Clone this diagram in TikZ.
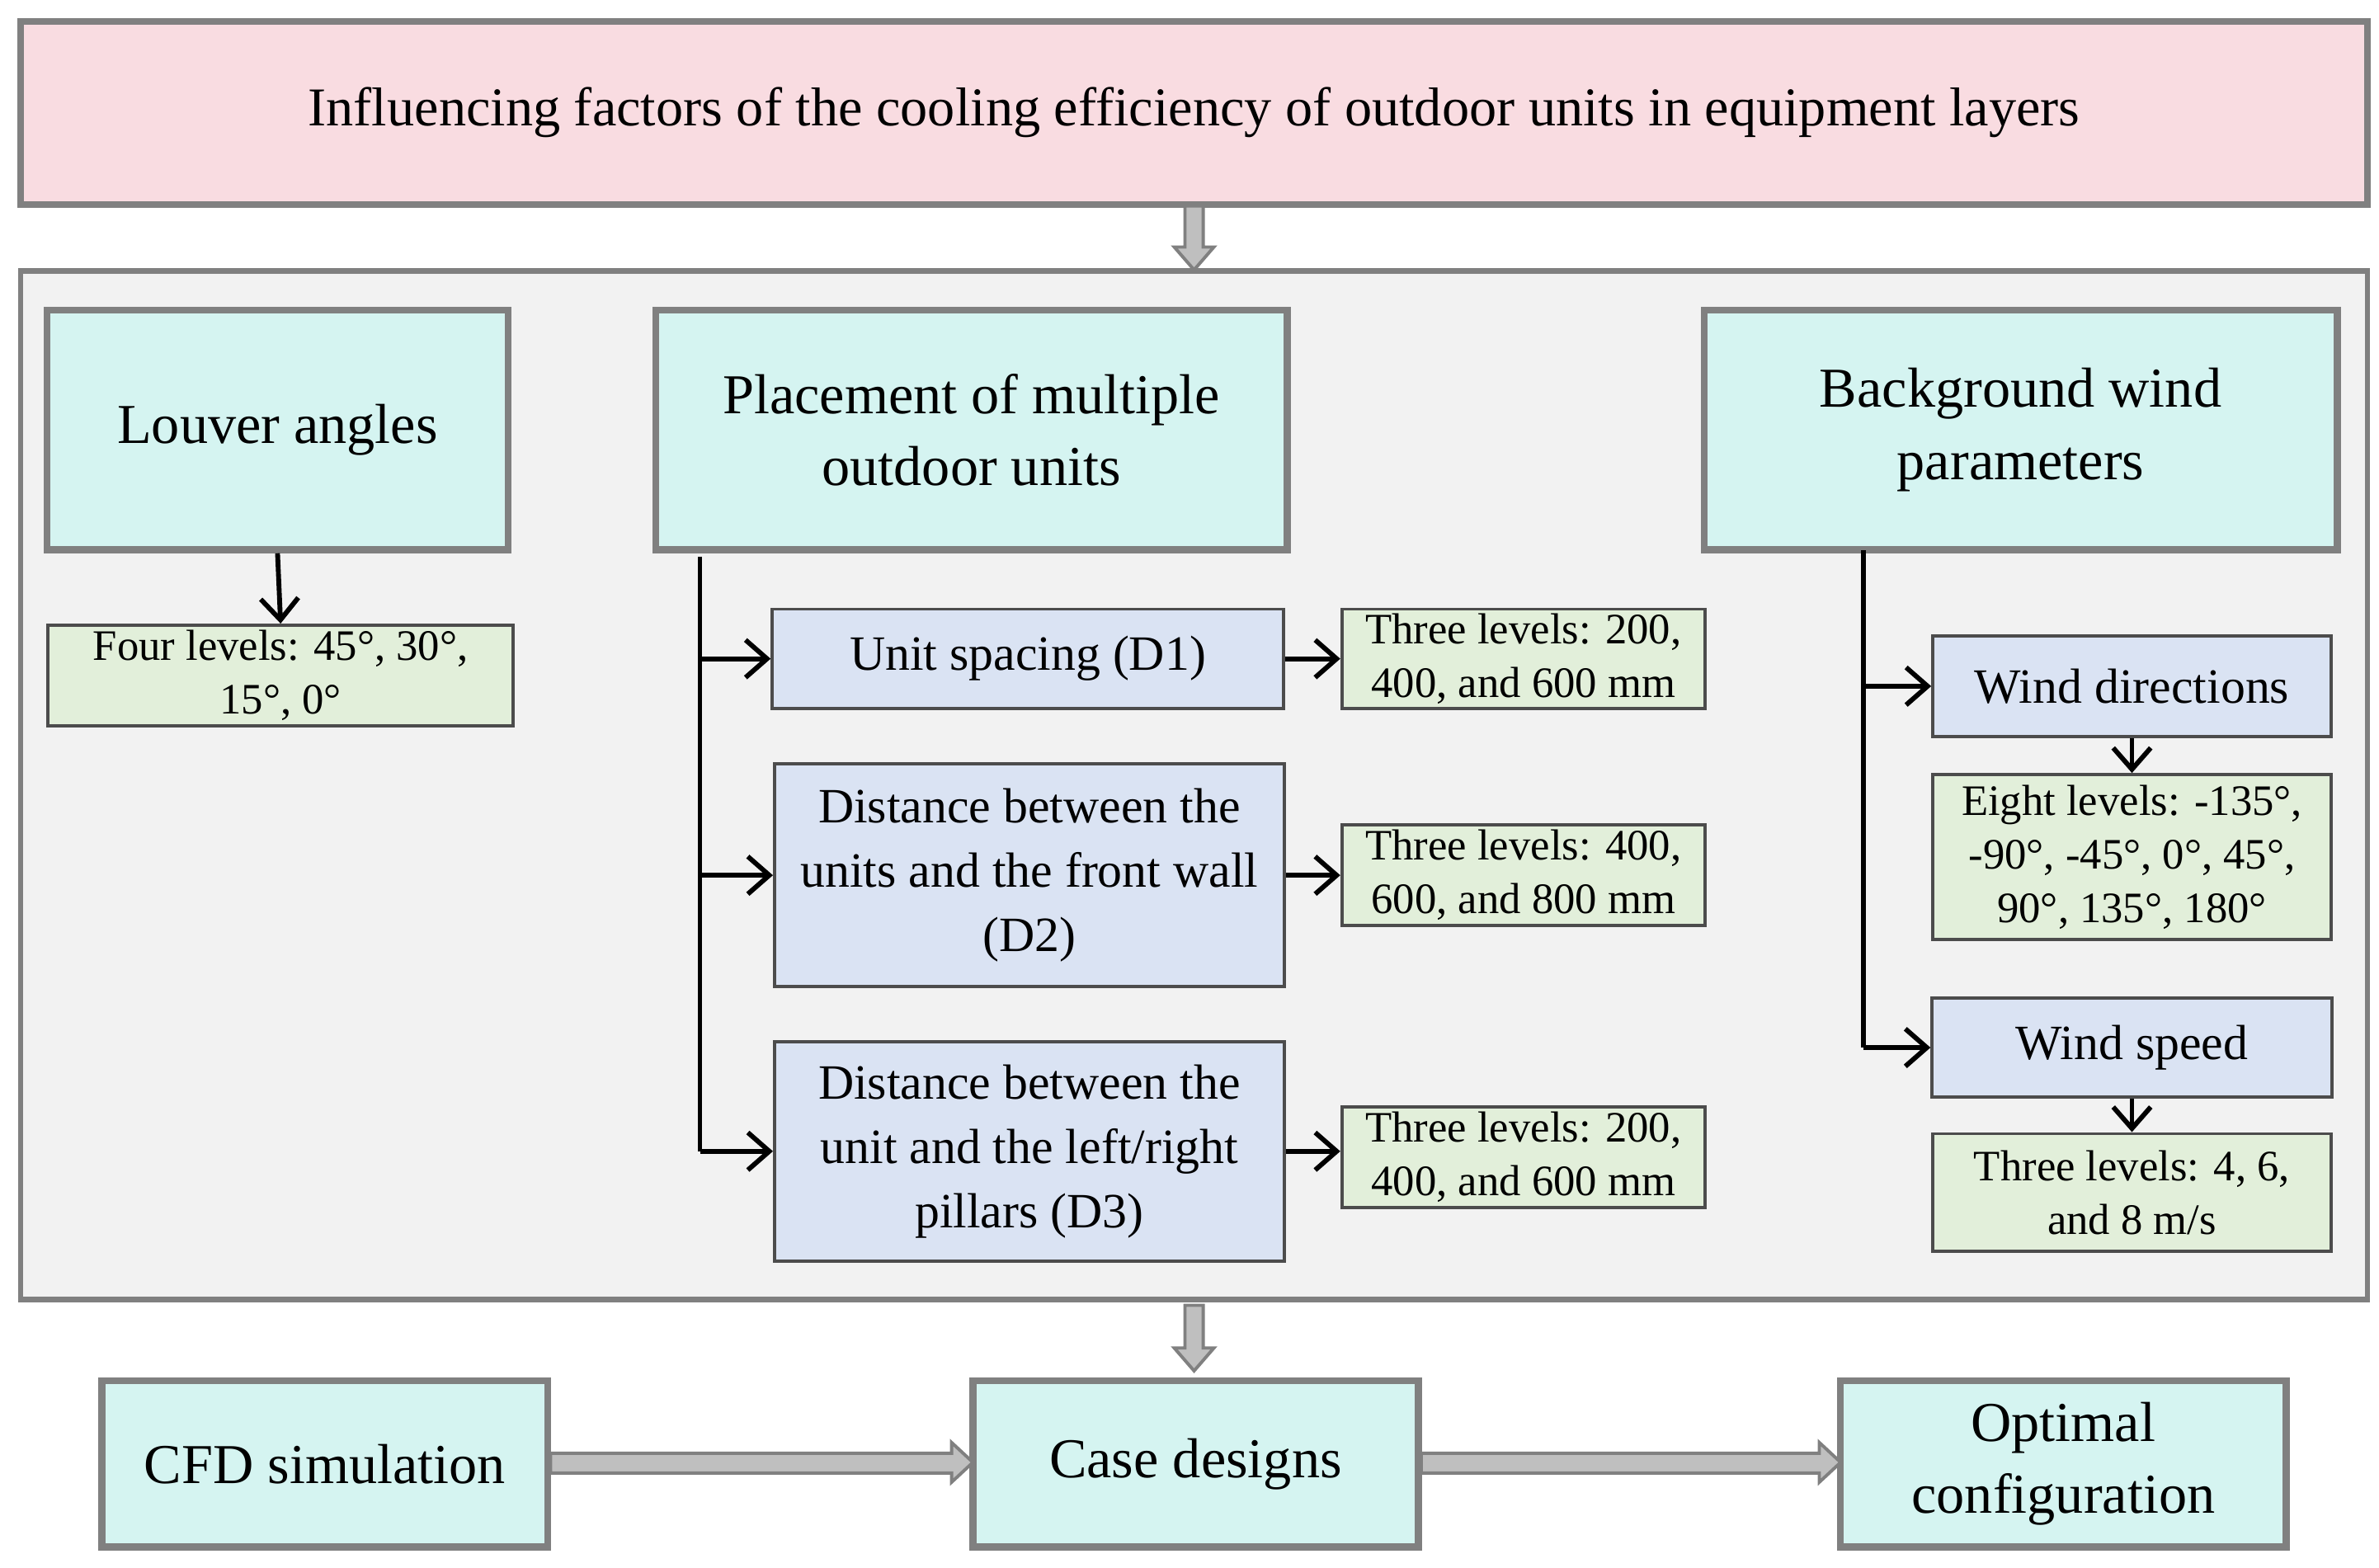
\documentclass[tikz,border=0pt]{standalone}
\usepackage{fontspec}
\setmainfont{Liberation Serif}
\usetikzlibrary{arrows.meta}
\definecolor{pinkf}{HTML}{F9DCE1}
\definecolor{cyanf}{HTML}{D5F4F1}
\definecolor{bluef}{HTML}{DAE3F3}
\definecolor{greenf}{HTML}{E2EFDA}
\definecolor{panelf}{HTML}{F2F2F2}
\definecolor{bord}{HTML}{808080}
\begin{document}
\begin{tikzpicture}[x=0.01cm,y=-0.01cm,
 box/.style={draw=bord,line width=1.3pt,align=center,inner sep=0pt},
 big/.style={box,fill=cyanf,font=\fontsize{10.5}{13.5}\selectfont},
 mid/.style={draw=black!70,line width=0.6pt,fill=bluef,align=center,inner sep=0pt,font=\fontsize{9.2}{12}\selectfont},
 sm/.style={draw=black!70,line width=0.6pt,fill=greenf,align=center,inner sep=0pt,font=\fontsize{8.1}{10}\selectfont},
 arr/.style={-{Straight Barb[length=4pt,width=7pt]},line width=0.9pt},
 fat/.style={draw=bord,fill=black!25,line width=0.6pt}]
\useasboundingbox (0,0) rectangle (1560,1028);
\node[box,fill=pinkf,minimum width=15.38cm,minimum height=1.2cm,font=\fontsize{10.2}{13}\selectfont] (top) at (783,74) {Influencing factors of the cooling efficiency of outdoor units in equipment layers};
\node[draw=bord,line width=1pt,fill=panelf,minimum width=15.38cm,minimum height=6.74cm] (panel) at (783,515) {};
\node[big,minimum width=3.02cm,minimum height=1.57cm] (lou) at (182,282) {Louver angles};
\node[big,minimum width=4.14cm,minimum height=1.57cm] (pla) at (637,282) {Placement of multiple\\outdoor units};
\node[big,minimum width=4.15cm,minimum height=1.57cm] (bg) at (1325,282) {Background wind\\parameters};
\node[sm,minimum width=3.05cm,minimum height=0.66cm] (l4) at (184,443) {Four levels: 45°, 30°,\\15°, 0°};
\node[mid,minimum width=3.35cm,minimum height=0.65cm] (d1) at (674,432) {Unit spacing (D1)};
\node[sm,minimum width=2.38cm,minimum height=0.65cm] (t1) at (999,432) {Three levels: 200,\\400, and 600 mm};
\node[mid,minimum width=3.34cm,minimum height=1.46cm] (d2) at (675,574) {Distance between the\\units and the front wall\\(D2)};
\node[sm,minimum width=2.38cm,minimum height=0.66cm] (t2) at (999,574) {Three levels: 400,\\600, and 800 mm};
\node[mid,minimum width=3.34cm,minimum height=1.44cm] (d3) at (675,755) {Distance between the\\unit and the left/right\\pillars (D3)};
\node[sm,minimum width=2.38cm,minimum height=0.66cm] (t3) at (999,759) {Three levels: 200,\\400, and 600 mm};
\node[mid,minimum width=2.61cm,minimum height=0.66cm] (wd) at (1398,450) {Wind directions};
\node[sm,minimum width=2.61cm,minimum height=1.08cm] (e8) at (1398,562) {Eight levels: -135°,\\-90°, -45°, 0°, 45°,\\90°, 135°, 180°};
\node[mid,minimum width=2.62cm,minimum height=0.65cm] (ws) at (1398,687) {Wind speed};
\node[sm,minimum width=2.61cm,minimum height=0.77cm] (t4) at (1398,782) {Three levels: 4, 6,\\and 8 m/s};
\node[big,minimum width=2.92cm,minimum height=1.09cm] (cfd) at (213,960) {CFD simulation};
\node[big,minimum width=2.92cm,minimum height=1.09cm] (case) at (784,960) {Case designs};
\node[big,minimum width=2.92cm,minimum height=1.09cm] (opt) at (1353,960) {Optimal\\configuration};
% connectors
\draw[arr] (lou.south) -- (l4.north);
\coordinate (p0) at (459,365);
\draw[line width=0.9pt] (p0) -- (459,755);
\draw[arr] (459,432) -- (d1.west);
\draw[arr] (459,574) -- (d2.west);
\draw[arr] (459,755) -- (d3.west);
\draw[arr] (d1.east) -- (t1.west);
\draw[arr] (d2.east) -- (t2.west);
\draw[arr] (d3.east) -- (d3.east -| t3.west);
\coordinate (b0) at (1222,361);
\draw[line width=0.9pt] (b0) -- (1222,687);
\draw[arr] (1222,450) -- (wd.west);
\draw[arr] (1222,687) -- (ws.west);
\draw[arr] (wd.south) -- (e8.north);
\draw[arr] (ws.south) -- (t4.north);
% fat arrows
\draw[fat] (777,135) -- (789,135) -- (789,162) -- (796,162) -- (783,177) -- (770,162) -- (777,162) -- cycle;
\draw[fat] (777,856) -- (789,856) -- (789,884) -- (796,884) -- (783,899) -- (770,884) -- (777,884) -- cycle;
\draw[fat] (361,953) -- (624,953) -- (624,946) -- (638,959) -- (624,972) -- (624,966) -- (361,966) -- cycle;
\draw[fat] (932,953) -- (1193,953) -- (1193,946) -- (1207,959) -- (1193,972) -- (1193,966) -- (932,966) -- cycle;
\end{tikzpicture}
\end{document}
